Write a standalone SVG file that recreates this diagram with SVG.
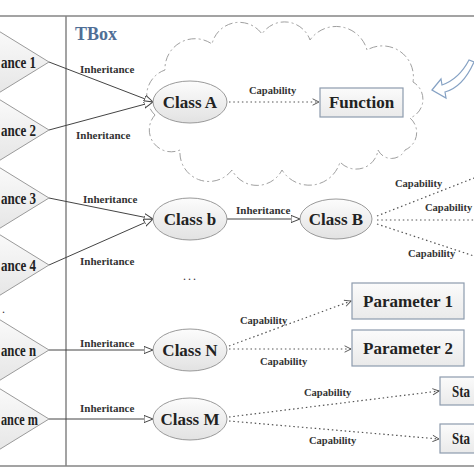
<svg xmlns="http://www.w3.org/2000/svg" width="474" height="474" viewBox="0 0 474 474">
<style>
.frame{stroke:#858585;stroke-width:1.5;fill:none}
.dia{fill:url(#gDia);stroke:#9a9a9a;stroke-width:1}
.ell{fill:url(#gEll);stroke:#9a9a9a;stroke-width:1}
.box{fill:url(#gBox);stroke:#8d9bad;stroke-width:1.2}
.big{font-family:"Liberation Serif","Times New Roman",serif;font-weight:bold;font-size:17px;fill:#222}
.lbl{font-family:"Liberation Serif","Times New Roman",serif;font-weight:bold;font-size:11px;fill:#333}
.cap{font-family:"Liberation Serif","Times New Roman",serif;font-weight:bold;font-size:10.5px;fill:#333}
.inh{stroke:#444;stroke-width:1;fill:none;marker-end:url(#tri)}
.dot{stroke:#555;stroke-width:1.2;fill:none;stroke-dasharray:1.5 2.8}
.doth{stroke:#555;stroke-width:1.2;fill:none;stroke-dasharray:1.5 2.8;marker-end:url(#chev)}
.cloud{fill:#fff;stroke:#a0a0a0;stroke-width:1;stroke-dasharray:8 3 2 3}
</style>
<defs>
<linearGradient id="gDia" x1="0" y1="0" x2="0" y2="1"><stop offset="0" stop-color="#fafafa"/><stop offset="1" stop-color="#e6e6e6"/></linearGradient>
<linearGradient id="gEll" x1="0" y1="0" x2="0" y2="1"><stop offset="0" stop-color="#fcfcfc"/><stop offset="1" stop-color="#e2e2e2"/></linearGradient>
<linearGradient id="gBox" x1="0" y1="0" x2="0" y2="1"><stop offset="0" stop-color="#fbfbfb"/><stop offset="1" stop-color="#eaeaea"/></linearGradient>
<marker id="tri" viewBox="0 0 10 10" refX="10" refY="5" markerWidth="9" markerHeight="9" markerUnits="userSpaceOnUse" orient="auto"><path d="M0,1 L10,5 L0,9 Z" fill="#fff" stroke="#444" stroke-width="1.1"/></marker>
<marker id="chev" viewBox="0 0 10 10" refX="9" refY="5" markerWidth="8" markerHeight="8" markerUnits="userSpaceOnUse" orient="auto"><path d="M1,1 L9,5 L1,9" fill="none" stroke="#555" stroke-width="1.2"/></marker>
</defs>
<rect width="474" height="474" fill="#fff"/>
<g id="frame">
<line class="frame" x1="0" y1="16" x2="474" y2="16"/>
<line class="frame" x1="0" y1="466" x2="474" y2="466"/>
<line class="frame" x1="66" y1="16" x2="66" y2="466"/>
<text x="75" y="40" font-family="Liberation Serif,Times New Roman,serif" font-weight="bold" font-size="18" fill="#4f6e96">TBox</text>
</g>
<g id="cloud">
<path class="cloud" d="M155,115 A27,27 0 0 1 165,70 A30,30 0 0 1 212,44 A28,28 0 0 1 262,34 A27,27 0 0 1 310,40 A32,32 0 0 1 367,50 A31,31 0 0 1 413,82 A20,20 0 0 1 410,118 A19,19 0 0 1 405,150 A15,15 0 0 1 378,150 A22,22 0 0 1 340,162 A32,32 0 0 1 282,170 A28,28 0 0 1 232,170 A29,29 0 0 1 180,150 A22,22 0 0 1 155,115 Z"/>
</g>
<g id="pointer">
<path d="M432,90 L441,79 L442,85 Q459,79 469,60 L474,62 Q463,87 445,92 L446,98 Z" fill="#fff" stroke="#86a2c4" stroke-width="1.2"/>
</g>
<g id="connectors">
<line class="inh" x1="49" y1="62" x2="153" y2="102"/>
<line class="inh" x1="49" y1="130" x2="153" y2="102"/>
<line class="inh" x1="49" y1="198" x2="153" y2="219"/>
<line class="inh" x1="49" y1="265" x2="153" y2="219"/>
<line class="inh" x1="49" y1="350" x2="153" y2="350"/>
<line class="inh" x1="49" y1="419" x2="153" y2="419"/>
<line class="inh" x1="227" y1="219" x2="300" y2="219"/>
<line class="doth" x1="229" y1="102" x2="319" y2="102"/>
<line class="dot" x1="377" y1="216" x2="474" y2="178"/>
<line class="dot" x1="377" y1="220" x2="474" y2="220"/>
<line class="dot" x1="377" y1="224" x2="474" y2="256"/>
<line class="doth" x1="229" y1="346" x2="351" y2="301"/>
<line class="doth" x1="229" y1="349" x2="351" y2="349"/>
<line class="doth" x1="229" y1="417" x2="439" y2="391"/>
<line class="doth" x1="229" y1="421" x2="439" y2="439"/>
<text class="lbl" x="80" y="73">Inheritance</text>
<text class="lbl" x="76" y="139">Inheritance</text>
<text class="lbl" x="83" y="203">Inheritance</text>
<text class="lbl" x="80" y="265">Inheritance</text>
<text class="lbl" x="80" y="347">Inheritance</text>
<text class="lbl" x="80" y="412">Inheritance</text>
<text class="lbl" x="236" y="214">Inheritance</text>
<text class="cap" x="249" y="94">Capability</text>
<text class="cap" x="395" y="187">Capability</text>
<text class="cap" x="425" y="211">Capability</text>
<text class="cap" x="408" y="257">Capability</text>
<text class="cap" x="240" y="324">Capability</text>
<text class="cap" x="260" y="365">Capability</text>
<text class="cap" x="304" y="396">Capability</text>
<text class="cap" x="309" y="444">Capability</text>
<text x="183" y="280" font-family="Liberation Serif,serif" font-size="12" letter-spacing="2" fill="#333">...</text>
<text x="2" y="313" font-family="Liberation Serif,serif" font-size="12" fill="#333">.</text>
</g>
<g id="inst1"><polygon class="dia" points="-3,30 49,62 -3,94 -55,62"/><text class="big" x="1" y="68" textLength="35" lengthAdjust="spacingAndGlyphs">ance 1</text></g>
<g id="inst2"><polygon class="dia" points="-3,98 49,130 -3,162 -55,130"/><text class="big" x="1" y="136" textLength="35" lengthAdjust="spacingAndGlyphs">ance 2</text></g>
<g id="inst3"><polygon class="dia" points="-3,166 49,198 -3,230 -55,198"/><text class="big" x="1" y="204" textLength="35" lengthAdjust="spacingAndGlyphs">ance 3</text></g>
<g id="inst4"><polygon class="dia" points="-3,233 49,265 -3,297 -55,265"/><text class="big" x="1" y="271" textLength="35" lengthAdjust="spacingAndGlyphs">ance 4</text></g>
<g id="instn"><polygon class="dia" points="-3,318 49,350 -3,382 -55,350"/><text class="big" x="1" y="356" textLength="35" lengthAdjust="spacingAndGlyphs">ance n</text></g>
<g id="instm"><polygon class="dia" points="-3,387 49,419 -3,451 -55,419"/><text class="big" x="1" y="425" textLength="37" lengthAdjust="spacingAndGlyphs">ance m</text></g>
<g id="classA"><ellipse class="ell" cx="190" cy="102" rx="37" ry="21"/><text class="big" x="190" y="108" text-anchor="middle">Class A</text></g>
<g id="classb"><ellipse class="ell" cx="190" cy="219" rx="37" ry="21"/><text class="big" x="190" y="225" text-anchor="middle">Class b</text></g>
<g id="classB"><ellipse class="ell" cx="336" cy="219" rx="36" ry="20"/><text class="big" x="336" y="225" text-anchor="middle">Class B</text></g>
<g id="classN"><ellipse class="ell" cx="190" cy="350" rx="37" ry="21"/><text class="big" x="190" y="356" text-anchor="middle">Class N</text></g>
<g id="classM"><ellipse class="ell" cx="190" cy="419" rx="37" ry="21"/><text class="big" x="190" y="425" text-anchor="middle">Class M</text></g>
<g id="function"><rect class="box" x="320" y="88" width="83" height="29"/><text class="big" x="361.5" y="108" text-anchor="middle">Function</text></g>
<g id="param1"><rect class="box" x="352" y="283" width="112" height="36"/><text class="big" x="408" y="307" text-anchor="middle">Parameter 1</text></g>
<g id="param2"><rect class="box" x="352" y="330" width="112" height="36"/><text class="big" x="408" y="354" text-anchor="middle">Parameter 2</text></g>
<g id="sta1"><rect class="box" x="440" y="377" width="35" height="28"/><text class="big" x="452" y="397" textLength="18" lengthAdjust="spacingAndGlyphs">Sta</text></g>
<g id="sta2"><rect class="box" x="440" y="424" width="35" height="29"/><text class="big" x="452" y="444" textLength="18" lengthAdjust="spacingAndGlyphs">Sta</text></g>
</svg>
